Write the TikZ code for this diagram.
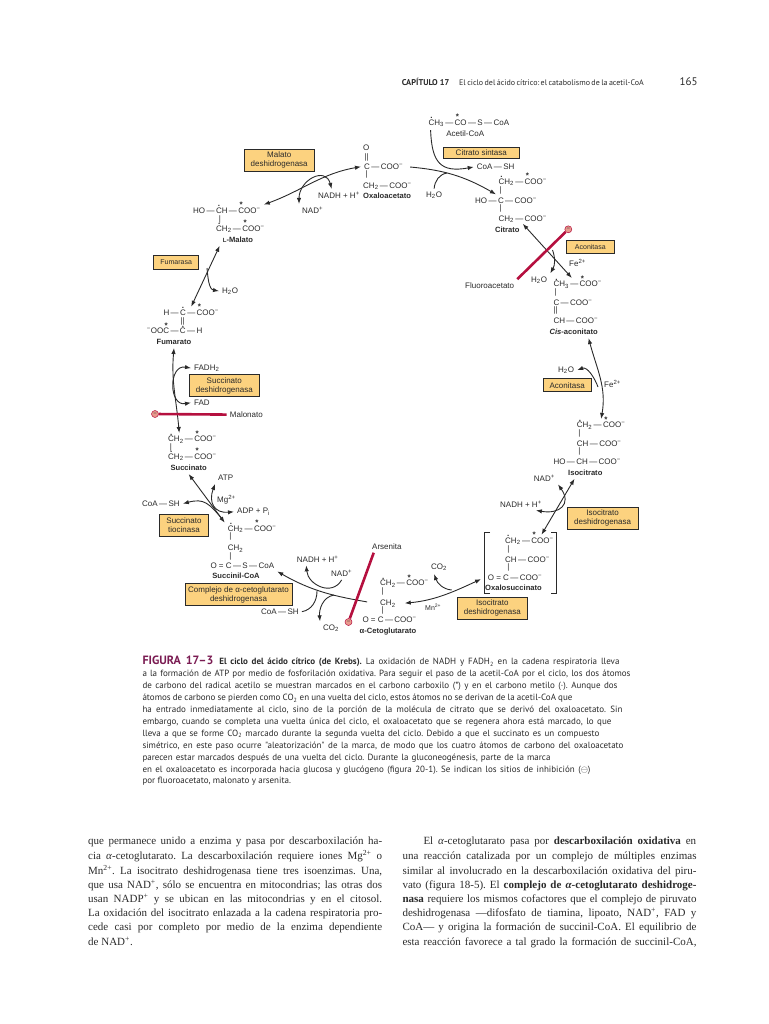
\documentclass[tikz,border=0pt]{standalone}
\usepackage{fontspec}
\usepackage{tikz}
\usetikzlibrary{arrows.meta}
\setmainfont{Liberation Sans}
\newfontfamily\capfont{PT Sans}
\newfontfamily\bodyfont{Liberation Serif}
\frenchspacing
\definecolor{ink}{HTML}{2A2A2A}
\definecolor{boxfill}{HTML}{FCD27F}
\definecolor{barred}{HTML}{B5103F}
\definecolor{inhibfill}{HTML}{E8998D}
\definecolor{figcol}{HTML}{7A1B52}
\newcommand{\dotc}[1]{\smash{\rlap{\hspace{.24em}\raisebox{.82em}{\textbf{.}}}}#1}
\newcommand{\starc}[1]{\smash{\rlap{\hspace{.16em}\raisebox{.70em}{\textbf{*}}}}#1}
\newcommand{\bnd}{\hspace{1.4pt}—\hspace{1.4pt}}
\newcommand{\mns}{\textsuperscript{−}}
\newcommand{\chemsz}{\fontsize{8}{9}\selectfont}
\tikzset{>={Latex[length=6pt,width=4.4pt]}}
\tikzstyle{chemrow} = [anchor=mid west, inner xsep=3pt, inner ysep=3pt,
    xshift=-3pt, yshift=-.8pt, text=ink, font=\chemsz]
\tikzstyle{chemname} = [chemrow, anchor=center, xshift=0pt,
    font=\fontsize{7.6}{9}\selectfont\bfseries]
\tikzstyle{bond} = [inner sep=0pt, text=ink, font=\chemsz]
\tikzstyle{enz} = [draw=ink, fill=boxfill, line width=.8pt, align=center,
    inner sep=0pt, text=ink, font=\chemsz]
\tikzstyle{rct} = [draw=ink, line width=.9pt]
\tikzstyle{barln} = [draw=barred, line width=2.6pt]
\tikzstyle{inhib} = [circle, draw=barred, fill=inhibfill, line width=.5pt,
    minimum size=7pt, inner sep=0pt, text=ink, font=\fontsize{6}{6}\selectfont]
\tikzstyle{capline} = [anchor=mid west, inner sep=0pt, text=ink,
    font=\capfont\fontsize{9}{10}\selectfont]
\tikzstyle{bodyline} = [anchor=mid west, inner sep=0pt, text=ink,
    font=\bodyfont\fontsize{11}{12}\selectfont]
\begin{document}
\begin{tikzpicture}[x=1pt,y=1pt]
    \useasboundingbox (0,0) rectangle (768,-1024);
    % page head
    \node [capline,font=\capfont\bfseries\fontsize{8.4}{9}\selectfont] (head1) at (401.7,-83.3) {CAPÍTULO 17};
    \node [capline,font=\capfont\fontsize{8}{9}\selectfont] (head2) at (459,-83.3) {\makebox[184pt][s]{El ciclo del ácido cítrico: el catabolismo de la acetil-CoA}};
    \node [capline,font=\capfont\fontsize{11}{12}\selectfont] (head3) at (679.3,-83) {165};
    % acetil-CoA
    \node [chemrow] (ace1) at (428.3,-122) {\dotc{C}H\textsubscript{3}\bnd\starc{C}O\bnd S\bnd CoA};
    \node [chemname,font=\chemsz] (aceN) at (468.3,-133) {Acetil-CoA};
    \node [enz,minimum width=76pt,minimum height=11.4pt] (csint) at (481.3,-153) {Citrato sintasa};
    \node [chemrow] (coaC) at (476.7,-166.3) {CoA\bnd SH};
    \node [chemrow] (h2oC) at (426,-194) {H\textsubscript{2}O};
    % citrato
    \node [chemrow] (cit1) at (498.3,-181) {\dotc{C}H\textsubscript{2}\bnd\starc{C}OO\mns};
    \node [bond] (citb1) at (500.7,-190) {|};
    \node [chemrow] (cit2) at (475,-199.7) {HO\bnd C\bnd COO\mns};
    \node [bond] (citb2) at (500.7,-208.3) {|};
    \node [chemrow] (cit3) at (498.3,-217.7) {CH\textsubscript{2}\bnd COO\mns};
    \node [chemname] (citN) at (510.3,-229) {Citrato};
    % aconitato
    \node [enz,font=\fontsize{7}{8}\selectfont,minimum width=47.3pt,minimum height=12.7pt] (acon1) at (590.3,-246.6) {Aconitasa};
    \node [chemrow] (fe1) at (569,-262.7) {Fe\textsuperscript{2+}};
    \node [chemrow] (h2oB) at (531,-278.7) {H\textsubscript{2}O};
    \node [chemrow] (fluT) at (465,-284.7) {Fluoroacetato};
    \node [inhib] (fluI) at (568.3,-229.3) {−};
    \node [chemrow] (cis1) at (553.3,-283.3) {\dotc{C}H\textsubscript{3}\bnd\starc{C}OO\mns};
    \node [bond] (cisb1) at (555.7,-292.7) {|};
    \node [chemrow] (cis2) at (553.3,-302) {C\bnd COO\mns};
    \node [bond] (cisb2) at (555.7,-310.7) {||};
    \node [chemrow] (cis3) at (553.3,-320) {CH\bnd COO\mns};
    \node [chemname] (cisN) at (576.7,-331.3) {\textit{Cis}-aconitato};
    % isocitrato
    \node [chemrow] (h2oD) at (558,-368.7) {H\textsubscript{2}O};
    \node [enz,minimum width=47.7pt,minimum height=13pt] (acon2) at (567.2,-385.2) {Aconitasa};
    \node [chemrow] (fe2) at (604,-384) {Fe\textsuperscript{2+}};
    \node [chemrow] (iso1) at (576.7,-424.3) {\dotc{C}H\textsubscript{2}\bnd\starc{C}OO\mns};
    \node [bond] (isob1) at (579.3,-433) {|};
    \node [chemrow] (iso2) at (576.7,-442.7) {CH\bnd COO\mns};
    \node [bond] (isob2) at (579.3,-451.7) {|};
    \node [chemrow] (iso3) at (553.3,-461) {HO\bnd CH\bnd COO\mns};
    \node [chemname] (isoN) at (588.3,-472) {Isocitrato};
    \node [chemrow] (nadI) at (533.7,-477.7) {NAD\textsuperscript{+}};
    \node [chemrow] (nadhI) at (500,-503.7) {NADH + H\textsuperscript{+}};
    \node [enz,minimum width=70.7pt,minimum height=22pt] (idh1) at (602.6,-518.3) {Isocitrato\\deshidrogenasa};
    % oxalosuccinato
    \node [chemrow] (osc1) at (505,-540) {\dotc{C}H\textsubscript{2}\bnd\starc{C}OO\mns};
    \node [bond] (oscb1) at (508.3,-549.3) {|};
    \node [chemrow] (osc2) at (505,-558.7) {CH\bnd COO\mns};
    \node [bond] (oscb2) at (508.3,-567) {|};
    \node [chemrow] (osc3) at (487.7,-576.7) {O = C\bnd COO\mns};
    \node [chemname] (oscN) at (516.5,-587.3) {Oxalosuccinato};
    \draw [rct] (490,-532) -- (484.3,-532) -- (484.3,-593) -- (490,-593);
    \draw [rct] (551,-532) -- (556.7,-532) -- (556.7,-593) -- (551,-593);
    % alfa-cetoglutarato
    \node [chemrow] (co2L) at (431,-566) {CO\textsubscript{2}};
    \node [chemrow,font=\fontsize{7}{8}\selectfont] (mnK) at (425,-606.7) {Mn\textsuperscript{2+}};
    \node [enz,minimum width=70pt,minimum height=22pt] (idh2) at (492.3,-608) {Isocitrato\\deshidrogenasa};
    \node [chemrow] (akg1) at (380,-582.3) {\dotc{C}H\textsubscript{2}\bnd\starc{C}OO\mns};
    \node [bond] (akgb1) at (382.7,-591.7) {|};
    \node [chemrow] (akg2) at (380,-602.3) {CH\textsubscript{2}};
    \node [bond] (akgb2) at (382.7,-610.3) {|};
    \node [chemrow] (akg3) at (362.3,-619) {O = C\bnd COO\mns};
    \node [chemname] (akgN) at (391,-630.3) {α-Cetoglutarato};
    \node [chemrow] (arsT) at (372,-546) {Arsenita};
    \node [inhib] (arsI) at (348.5,-622) {−};
    % succinil-CoA
    \node [chemrow] (nadhK) at (296.7,-558.7) {NADH + H\textsuperscript{+}};
    \node [chemrow] (nadK) at (331,-573.3) {NAD\textsuperscript{+}};
    \node [chemrow] (coaK) at (261,-611) {CoA\bnd SH};
    \node [chemrow] (co2K) at (323,-626.7) {CO\textsubscript{2}};
    \node [enz,minimum width=107pt,minimum height=22.4pt] (kgdh) at (238.5,-594.5) {Complejo de α-cetoglutarato\\deshidrogenasa};
    \node [chemrow] (sca1) at (227.7,-528) {\dotc{C}H\textsubscript{2}\bnd\starc{C}OO\mns};
    \node [bond] (scab1) at (230.3,-536.7) {|};
    \node [chemrow] (sca2) at (227.7,-547.3) {CH\textsubscript{2}};
    \node [bond] (scab2) at (230.3,-556) {|};
    \node [chemrow] (sca3) at (210.3,-564.7) {O = C\bnd S\bnd CoA};
    \node [chemname] (scaN) at (239,-575.3) {Succinil-CoA};
    % succinato
    \node [chemrow] (suc1) at (168,-438.3) {\dotc{C}H\textsubscript{2}\bnd\starc{C}OO\mns};
    \node [bond] (sucb1) at (171,-447) {|};
    \node [chemrow] (suc2) at (168,-456) {\dotc{C}H\textsubscript{2}\bnd\starc{C}OO\mns};
    \node [chemname] (sucN) at (191.7,-467.3) {Succinato};
    \node [chemrow] (atpS) at (218,-477.3) {ATP};
    \node [chemrow] (mgS) at (217,-499.3) {Mg\textsuperscript{2+}};
    \node [chemrow] (adpS) at (237,-510.3) {ADP + P\textsubscript{i}};
    \node [chemrow] (coaS) at (142,-503) {CoA\bnd SH};
    \node [enz,minimum width=49.4pt,minimum height=22pt] (stk) at (184,-525.3) {Succinato\\tiocinasa};
    % fumarato
    \node [chemrow] (fadhT) at (194,-366.7) {FADH\textsubscript{2}};
    \node [enz,minimum width=70pt,minimum height=22.4pt] (sdh) at (224.3,-385.5) {Succinato\\deshidrogenasa};
    \node [chemrow] (fadT) at (194,-402) {FAD};
    \node [chemrow] (malT) at (229.7,-414) {Malonato};
    \node [inhib] (malI) at (155,-414) {−};
    \node [chemrow] (fum1) at (163.3,-312) {H\bnd\dotc{C}\bnd\starc{C}OO\mns};
    \node [bond] (fumb1) at (182.7,-321.7) {||};
    \node [chemrow] (fum2) at (146.7,-330.3) {\mns OO\starc{C}\bnd\dotc{C}\bnd H};
    \node [chemname] (fumN) at (177,-341.3) {Fumarato};
    \node [enz,font=\fontsize{7}{8}\selectfont,minimum width=45pt,minimum height=13.3pt] (fumr) at (176.2,-262.3) {Fumarasa};
    \node [chemrow] (h2oF) at (222,-289.7) {H\textsubscript{2}O};
    % malato
    \node [chemrow] (mal1) at (193,-210) {HO\bnd\dotc{C}H\bnd\starc{C}OO\mns};
    \node [bond] (malb1) at (220,-219) {|};
    \node [chemrow] (mal2) at (216,-228) {\dotc{C}H\textsubscript{2}\bnd\starc{C}OO\mns};
    \node [chemname] (malN) at (241,-239) {{\fontsize{6}{6}\selectfont L}-Malato};
    \node [chemrow] (nadA) at (302,-210) {NAD\textsuperscript{+}};
    \node [enz,minimum width=69.5pt,minimum height=22.5pt] (mdh) at (279.2,-160.3) {Malato\\deshidrogenasa};
    % oxaloacetato
    \node [chemrow] (oxa1) at (363,-147.3) {O};
    \node [bond] (oxab1) at (366.7,-157) {||};
    \node [chemrow] (oxa2) at (364,-166) {C\bnd COO\mns};
    \node [bond] (oxab2) at (366.7,-174.5) {|};
    \node [chemrow] (oxa3) at (363,-184.7) {CH\textsubscript{2}\bnd COO\mns};
    \node [chemrow] (nadhA) at (318,-195) {NADH + H\textsuperscript{+}};
    \node [chemrow,font=\fontsize{7.6}{9}\selectfont\bfseries] (oxaN) at (363,-195) {Oxaloacetato};
    % junctions on the cycle
    \coordinate (csJ) at (447,-173);
    \coordinate (fumJ) at (207,-268);
    \coordinate (acoJ) at (552.5,-250);
    \coordinate (cisJ) at (598,-387);
    \coordinate (sucJ) at (223,-520);
    \coordinate (coaJ) at (317,-591);
    \coordinate (co2J) at (334,-595);
    \coordinate (kgJ) at (451.7,-590);
    % cycle
    \draw [rct,<->] (mal1.north east) to [out = 20, in = 190] (oxa2.west);
    \draw [rct,->,shorten <=4pt] (oxa2.east) to [out = -5, in = 150] (cit2.149);
    \draw [rct,<->] (citN.north east) -- (cis1.131);
    \draw [rct,<->] (cisN.-22) to [out = -75, in = 80] (iso1.north);
    \draw [rct,<->] (isoN.-151) -- (osc1.29);
    \draw [rct,<->,shorten <=6pt,shorten >=4pt] (akg2.east) to [out = 5, in = -155] (osc3.west);
    \draw [rct,->,shorten <=10pt] (akg2.west) to [out = 170, in = -30] (sca3.south east);
    \draw [rct,<->] (sucN.south) -- (sca1.north west);
    \draw [rct,<->] (fumN.south) to [out = -95, in = 95] (suc1.153);
    \draw [rct,<->] (malN.south west) -- (fum1.north);
    % side arrows
    \draw [rct,->] (ace1.-170) to [out = -88, in = 190, looseness = 1.5] (coaC.west);
    \draw [rct] (h2oC.north) to [out = 85, in = 190] (csJ);
    \draw [rct,<->] (nadA.north west) to [out = 90, in = 105, looseness = 1.7] (nadhA.139);
    \draw [rct,->] (fumJ) to [out = -85, in = 170] (h2oF.west);
    \draw [rct,<->] (fadhT.west) to [out = 170, in = 190, looseness = 1.7] (fadT.west);
    \draw [rct,->] (acoJ) to [out = -70, in = 60] (h2oB.north east);
    \draw [rct,->] (cisJ) to [out = 110, in = 20] (h2oD.east);
    \draw [rct,<->] (nadI.south east) to [out = -55, in = -10, looseness = 1.8] (nadhI.-23);
    \draw [rct,->] (kgJ) to [out = 175, in = -70] (co2L.-127);
    \draw [rct,->] (nadK.south) to [out = -120, in = -85, looseness = 1.3] (nadhK.-151);
    \draw [rct] (coaK.east) to [out = 10, in = -90] (coaJ);
    \draw [rct,->] (co2J) to [out = 190, in = 95] (co2K.north west);
    \draw [rct,<->] (atpS.south west) to [out = -110, in = 185, looseness = 1.5] (adpS.west);
    \draw [rct,->] (sucJ) to [out = 130, in = 15, looseness = 1.3] (coaS.east);
    % inhibitors
    \draw [barln] (fluT.north east) -- (fluI);
    \draw [barln] (malT.west) -- (malI);
    \draw [barln] (arsT.-155) -- (arsI);
    % caption
    \node [capline] (cap1) at (142.3,-662.3) {\makebox[477pt][s]{{\color{figcol}\bfseries\fontsize{12}{12}\selectfont FIGURA 17–3}\hspace{6pt}\textbf{El ciclo del ácido cítrico (de Krebs).} La oxidación de NADH y FADH\textsubscript{2} en la cadena respiratoria lleva}};
    \node [capline] (cap2) at (142.3,-674) {\makebox[488pt][s]{a la formación de ATP por medio de fosforilación oxidativa. Para seguir el paso de la acetil-CoA por el ciclo, los dos átomos}};
    \node [capline] (cap3) at (142.3,-686) {\makebox[475pt][s]{de carbono del radical acetilo se muestran marcados en el carbono carboxilo (*) y en el carbono metilo (·). Aunque dos}};
    \node [capline] (cap4) at (142.3,-698.3) {\makebox[430pt][s]{átomos de carbono se pierden como CO\textsubscript{2} en una vuelta del ciclo, estos átomos no se derivan de la acetil-CoA que}};
    \node [capline] (cap5) at (142.3,-710) {\makebox[480pt][s]{ha entrado inmediatamente al ciclo, sino de la porción de la molécula de citrato que se derivó del oxaloacetato. Sin}};
    \node [capline] (cap6) at (142.3,-722) {\makebox[469pt][s]{embargo, cuando se completa una vuelta única del ciclo, el oxaloacetato que se regenera ahora está marcado, lo que}};
    \node [capline] (cap7) at (142.3,-734) {\makebox[457pt][s]{lleva a que se forme CO\textsubscript{2} marcado durante la segunda vuelta del ciclo. Debido a que el succinato es un compuesto}};
    \node [capline] (cap8) at (142.3,-746) {\makebox[481pt][s]{simétrico, en este paso ocurre "aleatorización" de la marca, de modo que los cuatro átomos de carbono del oxaloacetato}};
    \node [capline] (cap9) at (142.3,-758) {\makebox[408pt][s]{parecen estar marcados después de una vuelta del ciclo. Durante la gluconeogénesis, parte de la marca}};
    \node [capline] (cap10) at (142.3,-769.7) {\makebox[448pt][s]{en el oxaloacetato es incorporada hacia glucosa y glucógeno (figura 20-1). Se indican los sitios de inhibición ($\ominus$)}};
    \node [capline] (cap11) at (142.3,-781.3) {por fluoroacetato, malonato y arsenita.};
    % text columns
    \node [bodyline] (lft1) at (88,-842.3) {\makebox[294pt][s]{que permanece unido a enzima y pasa por descarboxilación ha-}};
    \node [bodyline] (lft2) at (88,-857) {\makebox[294pt][s]{cia \textit{α}-cetoglutarato. La descarboxilación requiere iones Mg\textsuperscript{2+} o}};
    \node [bodyline] (lft3) at (88,-871.4) {\makebox[294pt][s]{Mn\textsuperscript{2+}. La isocitrato deshidrogenasa tiene tres isoenzimas. Una,}};
    \node [bodyline] (lft4) at (88,-885.4) {\makebox[294pt][s]{que usa NAD\textsuperscript{+}, sólo se encuentra en mitocondrias; las otras dos}};
    \node [bodyline] (lft5) at (88,-899.4) {\makebox[294pt][s]{usan NADP\textsuperscript{+} y se ubican en las mitocondrias y en el citosol.}};
    \node [bodyline] (lft6) at (88,-913.6) {\makebox[294pt][s]{La oxidación del isocitrato enlazada a la cadena respiratoria pro-}};
    \node [bodyline] (lft7) at (88,-928.3) {\makebox[294pt][s]{cede casi por completo por medio de la enzima dependiente}};
    \node [bodyline] (lft8) at (88,-942.7) {de NAD\textsuperscript{+}.};
    \node [bodyline] (rgt1) at (423.3,-842.3) {\makebox[272.7pt][s]{El \textit{α}-cetoglutarato pasa por \textbf{descarboxilación oxidativa} en}};
    \node [bodyline] (rgt2) at (402.3,-857) {\makebox[294pt][s]{una reacción catalizada por un complejo de múltiples enzimas}};
    \node [bodyline] (rgt3) at (402.3,-871.4) {\makebox[294pt][s]{similar al involucrado en la descarboxilación oxidativa del piru-}};
    \node [bodyline] (rgt4) at (402.3,-885.4) {\makebox[294pt][s]{vato (figura 18-5). El \textbf{complejo de \textit{α}-cetoglutarato deshidroge-}}};
    \node [bodyline] (rgt5) at (402.3,-899.4) {\makebox[294pt][s]{\textbf{nasa} requiere los mismos cofactores que el complejo de piruvato}};
    \node [bodyline] (rgt6) at (402.3,-913.6) {\makebox[294pt][s]{deshidrogenasa —difosfato de tiamina, lipoato, NAD\textsuperscript{+}, FAD y}};
    \node [bodyline] (rgt7) at (402.3,-928.3) {\makebox[294pt][s]{CoA— y origina la formación de succinil-CoA. El equilibrio de}};
    \node [bodyline] (rgt8) at (402.3,-942.7) {\makebox[294pt][s]{esta reacción favorece a tal grado la formación de succinil-CoA,}};
\end{tikzpicture}
\end{document}
